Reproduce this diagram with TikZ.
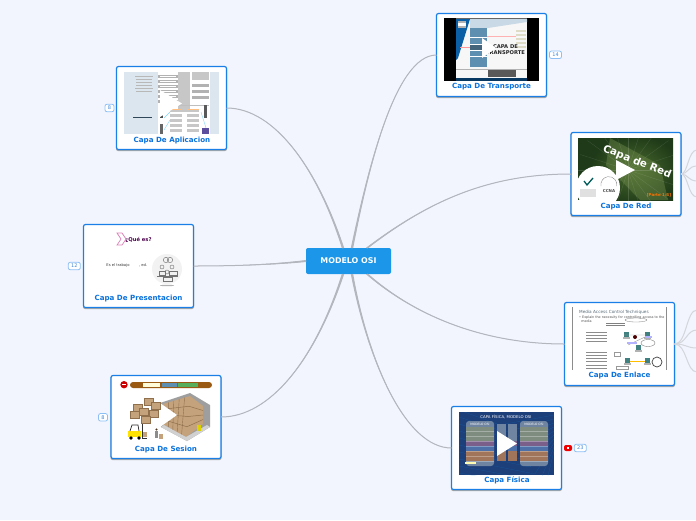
\documentclass[tikz,border=0pt]{standalone}
\usepackage{fontspec}
\setmainfont{DejaVu Sans}
\usetikzlibrary{calc}
\definecolor{bgc}{HTML}{F2F5FE}
\definecolor{edgec}{HTML}{1A7FE6}
\definecolor{labc}{HTML}{0B72DC}
\definecolor{midc}{HTML}{1B96E8}
\definecolor{linkc}{HTML}{B4B6BE}
\definecolor{subl}{HTML}{D4D6DC}
\definecolor{badgec}{HTML}{8CC0F5}
\definecolor{badget}{HTML}{3D86D6}
\definecolor{steel}{HTML}{5F8FB0}
\definecolor{deepblue}{HTML}{0B5FA5}
\definecolor{navy}{HTML}{1D3F7A}
\definecolor{panel}{HTML}{6F84A0}
\definecolor{olivegray}{HTML}{7E8C80}
\definecolor{mauve}{HTML}{7A5F8A}
\definecolor{rowblue}{HTML}{4D70A8}
\definecolor{rowbrown}{HTML}{A0755A}
\definecolor{leafdark}{HTML}{1E3A18}
\definecolor{leafmid}{HTML}{4A6B2E}
\definecolor{leaflight}{HTML}{6F8A4A}
\definecolor{mist}{HTML}{DCE6EE}
\definecolor{tan}{HTML}{C4A27C}
\definecolor{tandark}{HTML}{8F6F4C}
\definecolor{pillc}{HTML}{9A5A14}
\tikzset{
 cardbox/.style={draw=edgec,line width=1.2pt,fill=white,rounded corners=2pt,minimum width=110pt,minimum height=83pt,inner sep=0pt,outer sep=0pt},
 shadowbox/.style={fill=black!35,rounded corners=2pt,minimum width=111pt,minimum height=84pt,inner sep=0pt,outer sep=0pt},
 cardlabel/.style={text=labc,font=\bfseries\fontsize{7.1}{9}\selectfont,inner sep=0pt},
 countbadge/.style={draw=badgec,line width=.8pt,fill=white,rounded corners=2pt,minimum height=7.5pt,inner sep=0pt,outer sep=0pt,text=badget,font=\fontsize{5}{6}\selectfont},
 link/.style={draw=linkc,line width=1pt},
 wedge/.style={fill=linkc},
 sublink/.style={draw=subl,line width=1pt},
 playtri/.style={fill=white},
}
% connector with a tapered root: start, end, first control, second control, half width at root (dx,dy)
\newcommand{\branch}[6]{%
 \fill[wedge] ($(#1)+(#5,#6)$) .. controls ($(#3)+(#5*.5,#6*.5)$) and (#4) .. (#2) .. controls (#4) and ($(#3)-(#5*.5,#6*.5)$) .. ($(#1)-(#5,#6)$) -- cycle;
 \draw[link] (#1) .. controls (#3) and (#4) .. (#2);}
\begin{document}
\begin{tikzpicture}[x=1pt,y=-1pt]
\path[use as bounding box] (0,0) rectangle (696,520);
\clip (0,0) rectangle (696,520);
\fill[bgc] (0,0) rectangle (696,520);

% shadows
\foreach \p in {(491.5,56),(626,175),(619.5,345),(506.5,449),(171.5,109),(138.5,267),(166,418)}
  \node[shadowbox] at \p {};

% cards
\node[cardbox] (tra) at (491.5,55) {};
\node[cardbox] (red) at (626,174) {};
\node[cardbox] (enl) at (619.5,344) {};
\node[cardbox] (fis) at (506.5,448) {};
\node[cardbox] (apl) at (171.5,108) {};
\node[cardbox] (pre) at (138.5,266) {};
\node[cardbox] (ses) at (166,417) {};
\node[fill=midc,rounded corners=2pt,minimum width=85pt,minimum height=26pt,inner sep=0pt,outer sep=0pt,text=white,font=\bfseries\fontsize{7.9}{9}\selectfont] (osi) at (348.5,261) {MODELO OSI};

% main connectors
\branch{osi.75}{tra.west}{368,170}{395,55}{1.2}{0}
\branch{osi.113}{apl.east}{318,170}{275,108}{1.2}{0}
\branch{osi.35}{red.west}{430,200}{490,174}{1.3}{0}
\branch{osi.west}{pre.east}{270,265}{230,266}{0}{1}
\branch{osi.-113}{ses.east}{315,360}{270,417}{1.2}{0}
\branch{osi.-75}{fis.west}{368,360}{405,448}{1.2}{0}
\branch{osi.-35}{enl.west}{420,320}{490,344}{1.3}{0}

% sub branches
\coordinate (r1) at (697,150); \coordinate (r2) at (697,166);
\coordinate (r3) at (697,181); \coordinate (r4) at (697,197);
\foreach \e/\v in {r1/150,r2/166,r3/181,r4/197}
  \draw[sublink] (red.east) .. controls (688,174) and (688,\v) .. (\e);
\coordinate (e1) at (697,310); \coordinate (e2) at (697,330);
\coordinate (e3) at (697,348); \coordinate (e4) at (697,372);
\foreach \e/\v in {e1/310,e2/330,e3/348,e4/372}
  \draw[sublink] (enl.east) .. controls (687,344) and (686,\v) .. (\e);

% ---------- Transporte thumbnail
\begin{scope}
\clip (444,18) rectangle (539,81);
\fill[black] (444,18) rectangle (539,81);
\fill[black!3] (456,18) rectangle (527,81);
\fill[black!60] (456,18) rectangle (527,19);
\fill[mist!85!steel] (470,19) -- (527,19) -- (527,22) -- (488,28) -- (470,28) -- cycle;
\fill[deepblue] (456,19) -- (470,19) -- (458,58) -- (456,60) -- cycle;
\fill[black!30] (458,21) rectangle (466,28);
\fill[white] (458,23) rectangle (466,26);
\fill[steel] (470,28) rectangle (487,67);
\foreach \yy in {37,44,50,56} \draw[white,line width=.7pt] (470,\yy) -- (487,\yy);
\fill[steel!70!black] (470,45) rectangle (487,50);
\foreach \yy in {31,35,39,43,47} \draw[yellow!40!black!25,line width=1.4pt] (516,\yy) -- (526,\yy);
\draw[red!40,line width=.4pt] (460,47) -- (470,47);
\draw[red!30,line width=.3pt] (487,36) -- (516,36);
\node[inner sep=0pt,font=\bfseries\fontsize{5.2}{6.6}\selectfont,text=black!85] (traimg) at (505.5,50) {\begin{tabular}{@{}c@{}}CAPA DE\\TRANSPORTE\end{tabular}};
\fill[playtri] (482,38) -- (496,48) -- (482,58) -- cycle;
\fill[black!65] (488,70) rectangle (516,77);
\draw[black!30,line width=.5pt] (456,69) -- (527,69);
\fill[deepblue!60!black] (456,78) rectangle (527,81);
\end{scope}

% ---------- Red thumbnail
\begin{scope}
\clip (578,138) rectangle (673,200);
\fill[leafdark] (578,138) rectangle (673,200);
\shade[inner color=leafmid,outer color=leafdark] (590,135) rectangle (680,205);
\fill[leaflight,opacity=.45] (610,138) -- (660,165) -- (668,200) -- (640,200) -- (606,165) -- cycle;
\foreach \a in {0,18,...,342} \draw[white,opacity=.14,line width=.3pt] (628,170) -- +(\a:50);
\fill[white] (598,188) circle (22);
\node[rotate=-22,inner sep=0pt,text=white,font=\bfseries\fontsize{10.3}{12}\selectfont] (redimg) at (637,162) {Capa de Red};
\node[inner sep=0pt,text=orange!90!red,font=\bfseries\fontsize{4}{5}\selectfont] (redp) at (659,195.5) {[Parte 1/4]};
\draw[teal!70!black,line width=1.3pt] (584,181) -- (587,185) -- (593,178);
\fill[black!12] (580,189) rectangle (596,197);
\draw[black!55,line width=.3pt] (601,186) arc (170:370:8);
\node[inner sep=0pt,text=black!70,font=\bfseries\fontsize{4}{5}\selectfont] (ccna) at (609,191) {CCNA};
\fill[playtri] (616,160) -- (635,170) -- (616,180) -- cycle;
\end{scope}

% ---------- Enlace thumbnail
\begin{scope}
\clip (571,307) rectangle (668,370);
\draw[black!45,line width=.7pt] (572.5,307) -- (572.5,370) (666.5,307) -- (666.5,370);
\node[anchor=west,inner sep=0pt,text=steel!50!black!80,font=\fontsize{4.2}{6}\selectfont] (enlt) at (579,312) {Media Access Control Techniques};
\node[anchor=north west,align=left,inner sep=0pt,text=black!70,font=\fontsize{3.3}{4.2}\selectfont] (enls) at (579,315.5) {• Explain the necessity for controlling access to the\\[0pt]\ \ media};
\foreach \yy in {323,325} \fill[black!50] (606,\yy) rectangle (625,\yy+.7);
\foreach \yy in {332,335,338,341,352,355,358,361,365,368}
  \fill[black!45] (586,\yy) rectangle (607,\yy+.7);
\foreach \xx/\yy in {624/332,645/332,636/345,625/358,645/358}
 {\fill[teal!50!gray] (\xx,\yy) rectangle (\xx+5,\yy+5);\fill[black!30] (\xx-1,\yy+5) rectangle (\xx+6,\yy+6.5);}
\draw[black!50,line width=.4pt] (648,343) ellipse (7 and 3.5);
\draw[black!50,line width=.3pt] (636,320) ellipse (11 and 2);
\draw[black!75,line width=.7pt] (657,362) circle (5);
\fill[black!70!red] (635,337) circle (2);
\draw[black!40,line width=.4pt] (624,335) -- (646,335) (628,345) -- (645,337);
\draw[orange!50!yellow,line width=.5pt] (630,361) -- (645,361);
\fill[blue!30!white] (627,342) rectangle (637,344);
\fill[blue!30!white] (645,336) rectangle (652,338);
\draw[black!40,line width=.3pt] (614,352) rectangle (620,356);
\draw[black!40,line width=.3pt] (616,366) rectangle (628,369);
\end{scope}

% ---------- Fisica thumbnail
\begin{scope}
\clip (459,412) rectangle (554,475);
\fill[navy] (459,412) rectangle (554,475);
\foreach \i in {0,1,...,9} \draw[cyan!70!blue,opacity=.3,line width=.3pt] (459,\i*7+410) -- (500+\i*5,\i*7+425) -- (554,\i*4+415);
\node[inner sep=0pt,text=white,font=\fontsize{3.9}{5}\selectfont] (fist) at (506,416.5) {CAPA FÍSICA, MODELO OSI};
\foreach \xa/\xb in {466/494,520/548}{
 \fill[panel,rounded corners=3pt] (\xa,421) rectangle (\xb,466);
 \begin{scope}
 \clip[rounded corners=3pt] (\xa,421) rectangle (\xb,466);
 \fill[olivegray] (\xa,427) rectangle (\xb,441);
 \fill[mauve] (\xa,441) rectangle (\xb,446);
 \fill[rowblue] (\xa,446) rectangle (\xb,451);
 \fill[rowbrown] (\xa,451) rectangle (\xb,461);
 \foreach \yy in {431,436,441,446,451,456,461} \draw[white,opacity=.3,line width=.25pt] (\xa,\yy) -- (\xb,\yy);
 \end{scope}
 \node[inner sep=0pt,text=white,font=\fontsize{3}{4}\selectfont] at ($(\xa,424)!.5!(\xb,424)$) {MODELO OSI};
}
\foreach \xa/\xb in {497/506,508/517}{
 \fill[panel] (\xa,424) rectangle (\xb,461);
 \fill[mauve] (\xa,441) rectangle (\xb,446);
 \fill[rowblue] (\xa,446) rectangle (\xb,451);
 \fill[rowbrown] (\xa,451) rectangle (\xb,461);
}
\fill[yellow!30!white] (465,462) rectangle (476,464);
\fill[playtri] (497,431) -- (517,443.5) -- (497,456) -- cycle;
\end{scope}

% ---------- Aplicacion thumbnail
\begin{scope}
\clip (124,72) rectangle (219,134);
\fill[mist] (124,72) rectangle (219,134);
\fill[white] (158,72) rectangle (210,134);
\foreach \yy in {75,80,85,90,95,100} {\fill[black!30] (158,\yy) rectangle (178,\yy+2.5);\fill[white] (160,\yy+.6) rectangle (176,\yy+1.9);}
\fill[black!22] (178,72) rectangle (190,112);
\fill[black!22] (192,72) rectangle (209,80);
\foreach \yy in {84,90,96} {\fill[black!30] (192,\yy) rectangle (209,\yy+3);}
\fill[black!25] (170,105) rectangle (209,106);
\foreach \xx in {170,187} \foreach \yy in {109,114,119,124,129}
  {\fill[black!22] (\xx,\yy) rectangle (\xx+12,\yy+3);}
\draw[orange!50,line width=.5pt] (170,109) -- (182,109) (187,109) -- (199,109);
\fill[black!70] (160,104) rectangle (162.5,118);
\fill[black!60] (160,124) rectangle (162.5,134);
\fill[black!65] (204,105) rectangle (207,118);
\fill[rowblue!70!violet] (202,128) rectangle (209,134);
\draw[cyan!50,line width=.4pt] (164,118) -- (170,112) (164,130) -- (170,120) (201,112) -- (206,128);
\foreach \yy/\ww in {76/9,79/8,82/8,85/8,88/9,91/8} \fill[black!28] (144-\ww,\yy) rectangle (144+\ww,\yy+.8);
\fill[steel!50!black] (133,116.5) rectangle (152,118.4);
\fill[playtri] (160,90) -- (182,103.5) -- (160,117) -- cycle;
\end{scope}

% ---------- Presentacion thumbnail
\draw[magenta!60!violet!55,line width=.7pt] (117,233) -- (122,233) -- (126,239) -- (122,245) -- (117,245) -- (121,239) -- cycle;
\node[inner sep=0pt,text=violet!60!black,font=\bfseries\fontsize{5.2}{7}\selectfont] (preq) at (138.5,239.5) {¿Qué es?};
\node[inner sep=0pt,text=black!80,font=\fontsize{3.7}{5}\selectfont] (pret) at (118,265.3) {Es el trabajo};
\node[inner sep=0pt,text=black!80,font=\fontsize{3.7}{5}\selectfont] (pres) at (143,265.3) {, ed.};
\fill[black!5] (167,269) circle (15);
\fill[black!30] (167,285.5) ellipse (7 and .7);
\begin{scope}[draw=black!55,line width=.45pt]
\draw (166,260) circle (2.7);
\draw (170,260) circle (2.7);
\foreach \xx in {162,172} \draw (\xx,267) circle (2);
\draw (167,272) circle (2);
\draw (159,271) -- (165,271) -- (165,275) -- (159,275) -- cycle;
\draw (169,271) -- (177,271) -- (177,275) -- (169,275) -- cycle;
\draw (157,276) -- (178,276);
\draw (163,277) rectangle (172,281);
\end{scope}

% ---------- Sesion thumbnail
\fill[red!80!black] (124,384.7) circle (3.7);
\fill[white] (122.3,384) rectangle (125.7,385.4);
\fill[pillc,rounded corners=3pt] (130,382) rectangle (212,388);
\fill[white!85!yellow] (143,383) rectangle (160,387);
\fill[steel] (162,383) rectangle (177,387);
\fill[olivegray!70!green] (178,383) rectangle (198,387);
% warehouse
\fill[black!38] (160,403) -- (190,393) -- (210,405) -- (210,427) -- (187,441) -- (161,427) -- cycle;
\fill[tan] (163,404) -- (190,396) -- (203,406) -- (203,424) -- (186,437) -- (164,425) -- cycle;
\foreach \t in {0.25,0.5,0.75}{
 \draw[tandark,line width=.5pt] ($(163,404)!\t!(164,425)$) -- ($(190,396)!\t!(186,437)$) -- ($(203,406)!\t!(203,424)$);
}
\foreach \t in {0.2,0.4,0.6,0.8}
 \draw[tandark,line width=.4pt] ($(163,404)!\t!(190,396)$) -- ($(164,425)!\t!(186,437)$);
\fill[black!18] (161,427) -- (187,441) -- (210,427) -- (207,425) -- (186,437) -- (164,425) -- cycle;
\fill[yellow!70!olive] (197,425) rectangle (201,431);
\fill[white] (160,403) -- (177,415) -- (160,427) -- cycle;
% cartons
\foreach \xx/\yy in {133/404,144/398,151/402,130/411,139/408,149/410,141/416}
 {\fill[tan] (\xx,\yy) rectangle (\xx+9,\yy+7);
  \draw[tandark,line width=.25pt] (\xx,\yy) rectangle (\xx+9,\yy+7);}
% forklift
\fill[yellow!85!orange] (128,431) rectangle (141,437);
\draw[black!85,line width=.7pt] (130,431) -- (132,425) -- (138,425) -- (139,431);
\draw[black!80,line width=.7pt] (142,424) -- (142,438) -- (147,438);
\fill[tan] (143,432) rectangle (147,437);
\fill[black] (131,438) circle (1.9);
\fill[black] (139,438) circle (1.9);
% person
\fill[black!45] (155,431) rectangle (158,438);
\fill[brown!40!black] (156.5,429.5) circle (1.2);
\fill[tan] (159,434) rectangle (163,439);

% labels
\node[cardlabel] (ltra) at (491.5,86.5) {Capa De Transporte};
\node[cardlabel] (lred) at (626,206.5) {Capa De Red};
\node[cardlabel] (lenl) at (619.5,375.5) {Capa De Enlace};
\node[cardlabel] (lfis) at (507,480.5) {Capa Física};
\node[cardlabel] (lapl) at (172,140.5) {Capa De Aplicacion};
\node[cardlabel] (lpre) at (138.5,298.5) {Capa De Presentacion};
\node[cardlabel] (lses) at (166,449.5) {Capa De Sesion};

% badges
\node[countbadge,minimum width=12pt] (b14) at (555.5,54.8) {14};
\node[countbadge,minimum width=12pt] (b23) at (580.3,448) {23};
\node[fill=red!95!black,rounded corners=2pt,minimum width=8pt,minimum height=6pt,inner sep=0pt] (bred) at (568,448) {};
\fill[white] (567,447.3) rectangle (569,448.7);
\node[countbadge,minimum width=9pt] (b8a) at (109.5,108) {8};
\node[countbadge,minimum width=12pt] (b12) at (74.3,266) {12};
\node[countbadge,minimum width=9pt] (b8b) at (103,417.3) {8};
\end{tikzpicture}
\end{document}
